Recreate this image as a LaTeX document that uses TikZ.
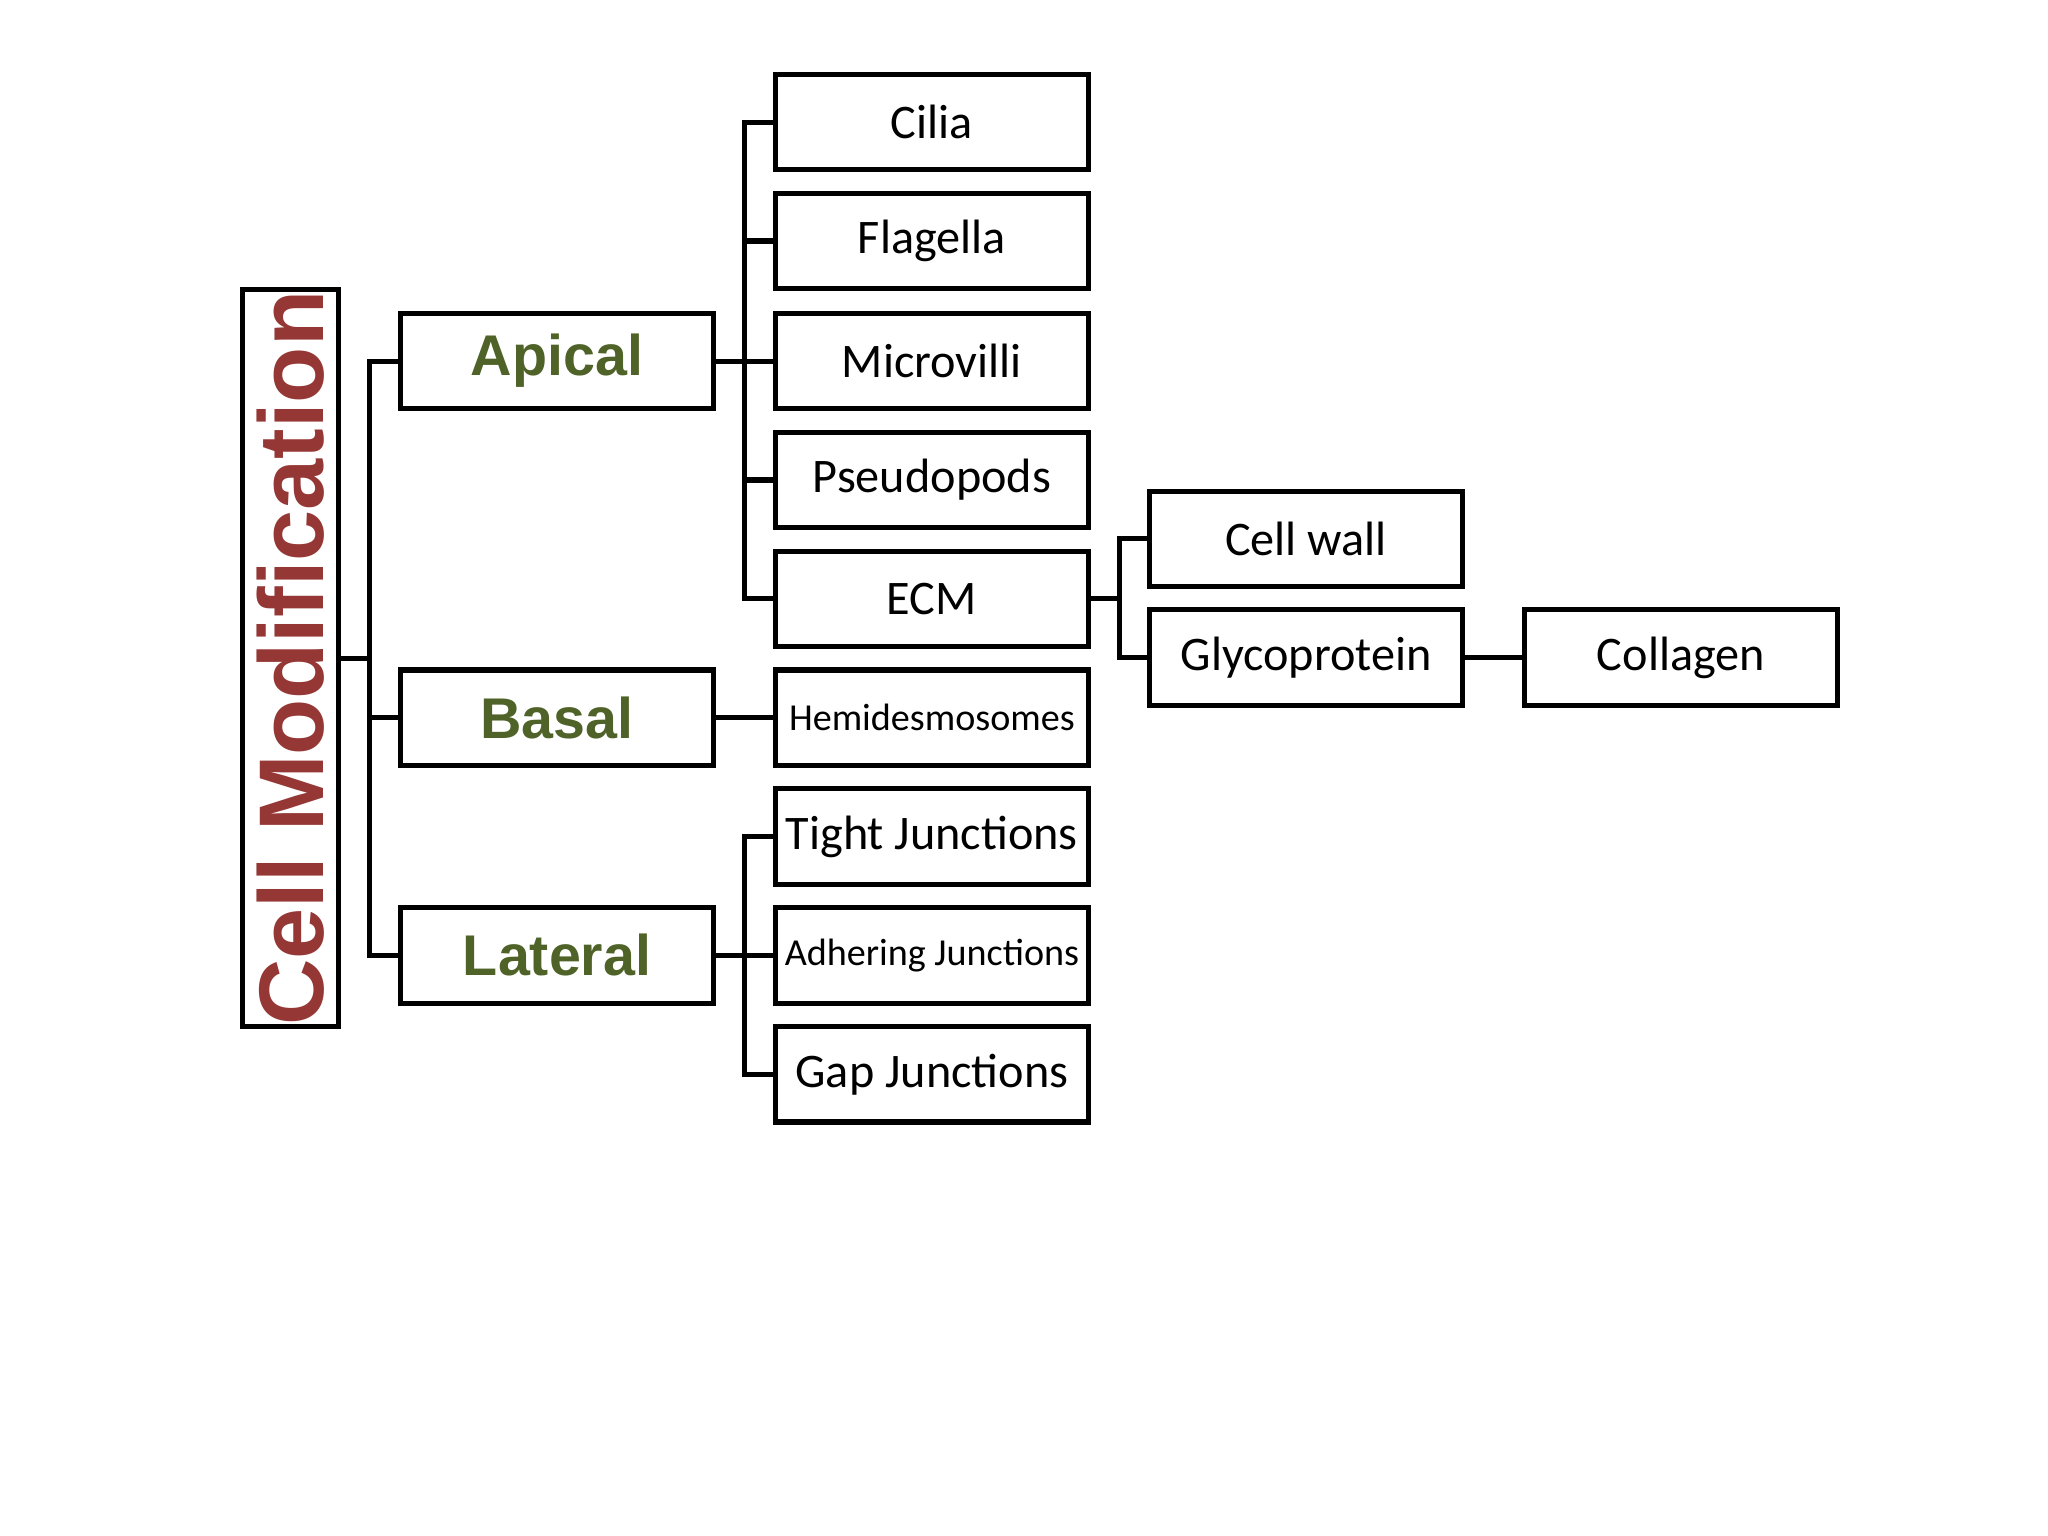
\documentclass[tikz,border=0pt]{standalone}
\usepackage{fontspec}
\setmainfont{Carlito}
\newfontfamily\arialb{Liberation Sans}
\begin{document}
\begin{tikzpicture}[x=0.01cm,y=-0.01cm,
 box/.style={draw,line width=1.1pt,minimum width=2.39cm,minimum height=0.73cm,inner sep=0pt,font=\fontsize{10.5}{12}\selectfont},
 lvl/.style={box,text=green!35!black!90!olive,font=\arialb\bfseries\fontsize{12.5}{14}\selectfont},
 ln/.style={line width=1.1pt}]
\useasboundingbox (0,0) rectangle (1568,1176);
\node[draw,line width=1.1pt,minimum width=0.73cm,minimum height=5.64cm,inner sep=0pt] (cm) at (222.5,504) {};
\node[rotate=90,text={rgb,255:red,149;green,55;blue,53},font=\arialb\bfseries\fontsize{20}{22}\selectfont] at (cm) {Cell Modification};
\node[lvl,text={rgb,255:red,79;green,98;blue,40}] (ap) at (426.5,276.5) {Apical};
\node[lvl,text={rgb,255:red,79;green,98;blue,40}] (ba) at (426.5,549.5) {Basal};
\node[lvl,text={rgb,255:red,79;green,98;blue,40}] (la) at (426.5,731.5) {Lateral};
\node[box] (ci) at (713.5,93.5) {Cilia};
\node[box] (fl) at (713.5,184.5) {Flagella};
\node[box] (mi) at (713.5,276.5) {Microvilli};
\node[box] (ps) at (713.5,367.5) {Pseudopods};
\node[box] (ec) at (713.5,458.5) {ECM};
\node[box,font=\fontsize{8.3}{10}\selectfont] (he) at (713.5,549.5) {Hemidesmosomes};
\node[box] (ti) at (713.5,640.5) {Tight Junctions};
\node[box,font=\fontsize{8.3}{10}\selectfont] (ad) at (713.5,731.5) {Adhering Junctions};
\node[box] (ga) at (713.5,822.5) {Gap Junctions};
\node[box] (cw) at (1000,412.5) {Cell wall};
\node[box] (gl) at (1000,503.5) {Glycoprotein};
\node[box] (co) at (1287,503.5) {Collagen};
\draw[ln] (cm.east) -- ++(24,0);
\draw[ln] (ap.west) -| (283,731.5) -- (la.west);
\draw[ln] (ba.west) -- ++(-24,0);
\draw[ln] (ap.east) -- ++(24,0);
\draw[ln] (ci.west) -| (570,458.5) -- (ec.west);
\foreach \n in {fl,mi,ps} \draw[ln] (\n.west) -- ++(-24,0);
\draw[ln] (ba.east) -- (he.west);
\draw[ln] (la.east) -- ++(24,0);
\draw[ln] (ti.west) -| (570,822.5) -- (ga.west);
\draw[ln] (ad.west) -- ++(-24,0);
\draw[ln] (ec.east) -- ++(24,0);
\draw[ln] (cw.west) -| (857,503.5) -- (gl.west);
\draw[ln] (gl.east) -- (co.west);
\end{tikzpicture}
\end{document}
